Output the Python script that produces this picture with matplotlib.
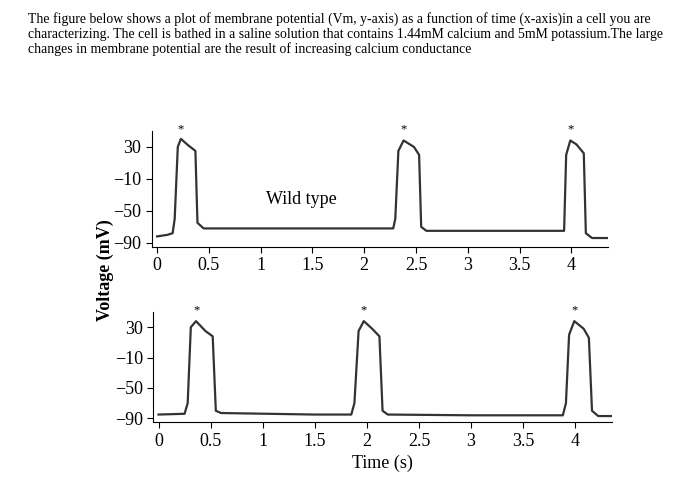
import matplotlib
matplotlib.use("Agg")
import matplotlib.pyplot as plt

plt.rcParams['font.family'] = ['Liberation Serif', 'DejaVu Serif']

# traces (time s, voltage mV)
t_wt = [0.0, 0.1, 0.15, 0.17, 0.2, 0.23, 0.3, 0.37, 0.39, 0.45, 1.0, 2.0, 2.28,
        2.3, 2.33, 2.38, 2.48, 2.53, 2.55, 2.6, 3.0, 3.9, 3.93, 3.95, 3.99, 4.05, 4.12, 4.14,
        4.2, 4.35]
v_wt = [-82, -80, -78, -60, 30, 40, 32, 25, -65, -72, -72, -72, -72,
        -60, 25, 38, 30, 20, -70, -75, -75, -75, -75, 20, 38, 33, 22, -78,
        -84, -84]
t_mut = [0.0, 0.25, 0.28, 0.31, 0.36, 0.45, 0.52, 0.55, 0.6, 1.5, 1.85, 1.88, 1.92,
         1.97, 2.05, 2.12, 2.15, 2.2, 3.0, 3.88, 3.91, 3.94, 3.99, 4.08, 4.13, 4.16, 4.22, 4.35]
v_mut = [-85, -84, -70, 30, 38, 25, 18, -80, -83, -85, -85, -70, 25,
         38, 28, 18, -80, -85, -86, -86, -70, 20, 38, 28, 16, -80, -87, -87]
peaks_wt = [0.23, 2.38, 3.99]
peaks_mut = [0.36, 1.97, 3.99]
yticks = [30, -10, -50, -90]
xticks = [0, 0.5, 1, 1.5, 2, 2.5, 3, 3.5, 4]
xlabels = ['0', '0.5', '1', '1.5', '2', '2.5', '3', '3.5', '4']

fig = plt.figure(figsize=(7, 4.83), dpi=100)
fig.text(0.04, 0.975,
         "The figure below shows a plot of membrane potential (Vm, y-axis) as a function of time (x-axis)in a cell you are\n"
         "characterizing. The cell is bathed in a saline solution that contains 1.44mM calcium and 5mM potassium.The large\n"
         "changes in membrane potential are the result of increasing calcium conductance",
         fontsize=9.9, va='top', linespacing=1.15)

def panel(rect, t, v, peaks):
    ax = fig.add_axes(rect)
    ax.plot(t, v, color='#333333', lw=1.6)
    for p in peaks:
        ax.text(p, 52, '*', ha='center', va='center', fontsize=9)
    ax.set_xlim(-0.05, 4.35)
    ax.set_ylim(-95, 50)
    ax.set_yticks(yticks)
    ax.set_xticks(xticks)
    ax.set_xticklabels(xlabels)
    ax.tick_params(labelsize=13, length=4)
    ax.spines['top'].set_visible(False)
    ax.spines['right'].set_visible(False)
    ax.patch.set_alpha(0)
    return ax

ax1 = panel([0.217, 0.489, 0.651, 0.24], t_wt, v_wt, peaks_wt)
ax1.text(1.05, -42, 'Wild type', fontsize=13)
ax2 = panel([0.219, 0.126, 0.655, 0.228], t_mut, v_mut, peaks_mut)
ax2.set_xlabel('Time (s)', fontsize=13)
fig.text(0.15, 0.44, 'Voltage (mV)', rotation=90, fontsize=13, fontweight='bold',
         ha='center', va='center')

plt.savefig('out.png', dpi=100)
